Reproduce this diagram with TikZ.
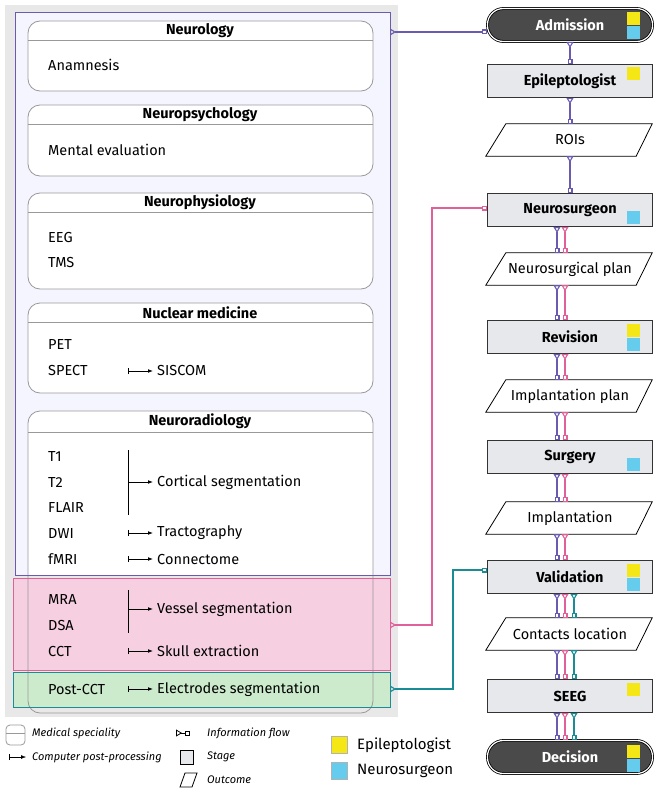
\documentclass[tikz,border=0pt]{standalone}
\usepackage{fontspec}
\setmainfont{Fira Sans}
\usetikzlibrary{positioning, arrows.meta, calc}
\definecolor{flowpurple}{HTML}{6A5AB0}
\definecolor{flowpink}{HTML}{E0609A}
\definecolor{flowteal}{HTML}{1A8C96}
\definecolor{stagegray}{HTML}{E6E8EC}
\definecolor{pillgray}{HTML}{4A4A4A}
\definecolor{epiyellow}{HTML}{F5E616}
\definecolor{neurocyan}{HTML}{66CCEE}
\tikzset{
  speciality/.style={draw=gray!80, thick, rounded corners=12pt},
  stitle/.style={font=\bfseries\fontsize{14.5}{16}\selectfont},
  item/.style={anchor=west, font=\fontsize{14.5}{16}\selectfont, inner sep=0pt},
  stage/.style={draw=black!80, thick, fill=stagegray, minimum width=165pt, minimum height=33pt, font=\bfseries\fontsize{14.5}{16}\selectfont},
  pill/.style={double=white, draw=black, double distance=1.2pt, thick, fill=pillgray, rounded corners=16pt, minimum width=165pt, minimum height=33pt, text=white, font=\bfseries\fontsize{14.5}{16}\selectfont},
  outcome/.style={minimum width=148pt, minimum height=32pt, font=\fontsize{14.5}{16}\selectfont},
  flow/.style={line width=1.1pt, {Triangle[open,reversed,width=7pt,length=6pt]}-{Square[open,length=5pt,width=5pt]}},
  post/.style={thick, {Bar[width=6pt]}-{Latex[length=5pt]}},
}
\begin{document}
\begin{tikzpicture}[x=1pt, y=-1pt]
\useasboundingbox (0,0) rectangle (668,789);
% panel and regions
\fill[black!9] (5,5) rectangle (398,717);
\fill[blue!4] (15,12) rectangle (390,575);
\fill[flowpink!30] (13,578) rectangle (390,670);
\fill[green!60!black!20] (13,672) rectangle (390,707);
% medical specialities
\foreach \top/\bot/\line/\name in {21/91/40/Neurology, 105/176/124/Neuropsychology, 193/289/212/Neurophysiology, 303/393/322/Nuclear medicine}
{
  \fill[white, rounded corners=12pt] (28,\top) rectangle (373,\bot);
  \draw[speciality] (28,\top) rectangle (373,\bot);
  \draw[gray!80, thick] (28,\line) -- (373,\line);
  \node[stitle] at (200,{(\top+\line)/2}) {\name};
}
\begin{scope}
  \clip (0,0) rectangle (400,575);
  \fill[white, rounded corners=12pt] (28,411) rectangle (373,713);
\end{scope}
\draw[speciality] (28,411) rectangle (373,713);
\draw[gray!80, thick] (28,432) -- (373,432);
\node[stitle] at (200,421) {Neuroradiology};
\draw[flowpurple, thick] (15,12) rectangle (390,575);
\draw[flowpink, thick] (13,578) rectangle (390,670);
\draw[flowteal, thick] (13,672) rectangle (390,707);
% items
\node[item] (anam) at (48,65) {Anamnesis};
\node[item] (ment) at (48,150) {Mental evaluation};
\node[item] (eeg) at (48,238) {EEG};
\node[item] (tms) at (48,263) {TMS};
\node[item] (pet) at (48,345) {PET};
\node[item] (spect) at (48,371) {SPECT};
\node[item] (t1) at (48,456) {T1};
\node[item] (t2) at (48,482) {T2};
\node[item] (flair) at (48,507) {FLAIR};
\node[item] (dwi) at (48,533) {DWI};
\node[item] (fmri) at (48,559) {fMRI};
\node[item] (mra) at (48,599) {MRA};
\node[item] (dsa) at (48,625) {DSA};
\node[item] (cct) at (48,651) {CCT};
\node[item] (post) at (48,689) {Post-CCT};
\node[item] (siscom) at (157,371) {SISCOM};
\node[item] (cort) at (157,482) {Cortical segmentation};
\node[item] (tract) at (157,533) {Tractography};
\node[item] (conn) at (157,559) {Connectome};
\node[item] (vess) at (157,609) {Vessel segmentation};
\node[item] (skull) at (157,651) {Skull extraction};
\node[item] (elec) at (157,689) {Electrodes segmentation};
\foreach \n in {siscom, tract, conn, skull, elec}
  \draw[post] ([xshift=-29pt]\n.west) -- ([xshift=-4pt]\n.west);
\draw[thick] (128,450) -- (128,515);
\draw[thick, -{Latex[length=5pt]}] (128,482) -- ([xshift=-4pt]cort.west);
\draw[thick] (128,590) -- (128,633);
\draw[thick, -{Latex[length=5pt]}] (128,609) -- ([xshift=-4pt]vess.west);
% stages
\node[pill] (adm) at (570,25) {Admission};
\node[stage] (epi) at (570,81) {Epileptologist};
\node[outcome] (rois) at (570,140) {};
\node[stage] (neuro) at (570,210) {Neurosurgeon};
\node[outcome] (nplan) at (570,269) {};
\node[stage] (rev) at (570,337) {Revision};
\node[outcome] (iplan) at (570,396) {};
\node[stage] (surg) at (570,457) {Surgery};
\node[outcome] (impl) at (570,518) {};
\node[stage] (valid) at (570,577) {Validation};
\node[outcome] (cont) at (570,634) {};
\node[stage] (seeg) at (570,696) {SEEG};
\node[pill] (dec) at (570,757) {Decision};
\foreach \n in {rois, nplan, iplan, impl, cont}
  \draw[thick, fill=white] ($(\n.north west)+(10,0)$) -- ($(\n.north east)+(8,0)$) -- ($(\n.south east)+(-8,0)$) -- ($(\n.south west)+(-10,0)$) -- cycle;
\node[outcome] at (rois) {ROIs};
\node[outcome] at (nplan) {Neurosurgical plan};
\node[outcome] at (iplan) {Implantation plan};
\node[outcome] at (impl) {Implantation};
\node[outcome] at (cont) {Contacts location};
% role tags
\foreach \n/\y/\c in {adm/-6/epiyellow, adm/8/neurocyan, epi/-7/epiyellow, neuro/7/neurocyan, rev/-7/epiyellow, rev/7/neurocyan, surg/7/neurocyan, valid/-7/epiyellow, valid/7/neurocyan, seeg/-7/epiyellow, dec/-6/epiyellow, dec/8/neurocyan}
  \fill[\c] ($(\n.east)+(-19,\y)$) +(-6.5,-6.5) rectangle +(6.5,6.5);
% information flow
\draw[flow, flowpurple] (adm) -- (epi);
\draw[flow, flowpurple] (epi) -- (rois);
\draw[flow, flowpurple] (rois) -- (neuro);
\foreach \a/\b in {neuro/nplan, nplan/rev, rev/iplan, iplan/surg, surg/impl, impl/valid}
{
  \draw[flow, flowpurple] ([xshift=-13pt]\a.south) -- ([xshift=-13pt]\b.north);
  \draw[flow, flowpink] ([xshift=-5pt]\a.south) -- ([xshift=-5pt]\b.north);
}
\foreach \a/\b in {valid/cont, cont/seeg, seeg/dec}
{
  \draw[flow, flowpurple] ([xshift=-13pt]\a.south) -- ([xshift=-13pt]\b.north);
  \draw[flow, flowpink] ([xshift=-5pt]\a.south) -- ([xshift=-5pt]\b.north);
  \draw[flow, flowteal] ([xshift=4pt]\a.south) -- ([xshift=4pt]\b.north);
}
\coordinate (purp) at (390,32);
\coordinate (pink) at (390,625);
\coordinate (teal) at (390,689);
\draw[flow, flowpurple] (purp) -- (purp -| adm.west);
\draw[flow, flowpink] (pink) -| (432,208) -- (neuro.west |- 0,208);
\draw[flow, flowteal] (teal) -| (453,570) -- (valid.west |- 0,570);
% legend
\tikzset{legtext/.style={anchor=west, font=\itshape\fontsize{11}{13}\selectfont, inner sep=0pt}}
\draw[gray!80, thick, rounded corners=4pt] (6,725) rectangle (25,745);
\draw[gray!80, thick] (6,733) -- (25,733);
\node[legtext] (lspec) at (32,733) {Medical speciality};
\draw[post, thin] (9,757) -- (26,757);
\node[legtext] (lpost) at (32,757) {Computer post-processing};
\draw[thick, {Triangle[open,reversed,width=7pt,length=6pt]}-{Square[open,length=5pt,width=5pt]}] (176,733) -- (190,733);
\node[legtext] (lflow) at (207,733) {Information flow};
\draw[thick, fill=stagegray] (180,750) rectangle (193,764);
\node[legtext] (lstage) at (207,757) {Stage};
\draw[thick] (180,787) -- (185,773) -- (197,773) -- (192,787) -- cycle;
\node[legtext] (lout) at (207,780) {Outcome};
\draw[gray!60, fill=epiyellow] (331,736) rectangle (347,753);
\node[item, font=\fontsize{15}{17}\selectfont] at (357,745) {Epileptologist};
\draw[gray!60, fill=neurocyan] (331,762) rectangle (347,779);
\node[item, font=\fontsize{15}{17}\selectfont] at (357,771) {Neurosurgeon};
\end{tikzpicture}
\end{document}
